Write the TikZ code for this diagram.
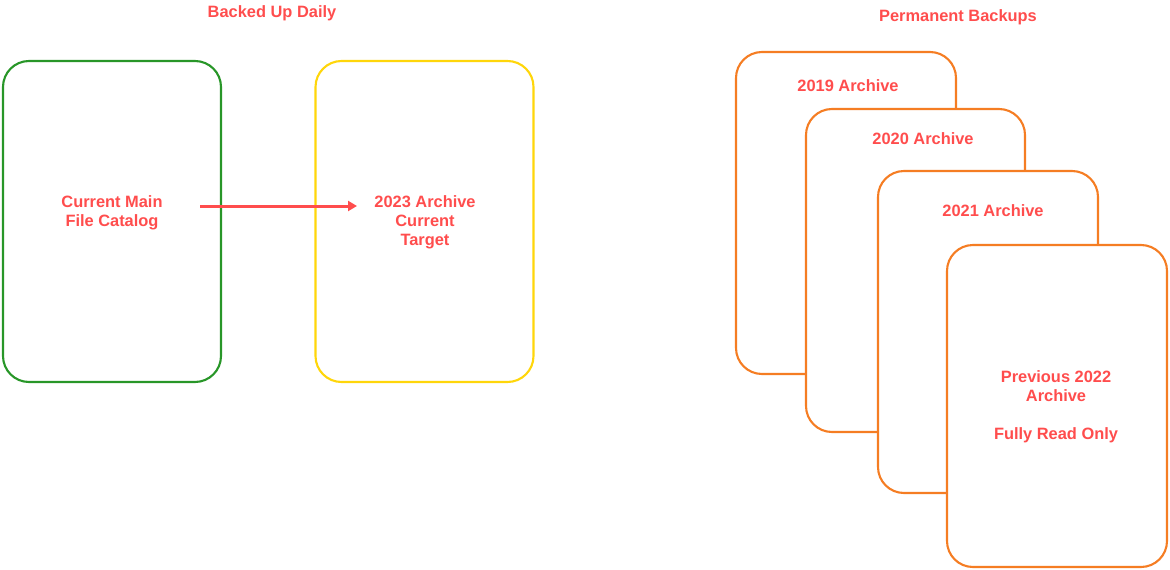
\documentclass[tikz,border=0pt]{standalone}
\usepackage{fontspec}
\setmainfont{Liberation Sans}
\usetikzlibrary{arrows.meta}
\definecolor{txtred}{RGB}{255,77,77}
\definecolor{boxgreen}{RGB}{40,150,40}
\definecolor{boxyellow}{RGB}{255,214,10}
\definecolor{boxorange}{RGB}{245,125,35}
\begin{document}
\begin{tikzpicture}[x=1pt,y=-1pt,
  box/.style={draw, line width=2.1pt, rounded corners=26pt, minimum width=218pt, minimum height=321pt, inner sep=0pt, fill=white},
  lbl/.style={text=txtred, font=\fontsize{16.4}{19}\selectfont\bfseries, align=center, inner sep=0pt},
  arr/.style={draw=txtred, line width=3pt, -{Triangle[length=9pt,width=10pt]}}]
\useasboundingbox (0,0) rectangle (1170,570);
% left group
\node[box, draw=boxgreen] (main) at (112,221.5) {};
\node[box, draw=boxyellow] (cur) at (424.5,221.5) {};
\node[lbl] (tDaily) at (272,13) {Backed Up Daily};
\node[lbl] (lMain) at (112,213) {Current Main\\File Catalog};
\node[lbl] (lCur) at (425,222.5) {2023 Archive\\Current\\Target};
\coordinate (a1) at (200,206);
\coordinate (a2) at (357,206);
\draw[arr] (a1) -- (a2);
% right group
\node[lbl] (tPerm) at (958,17) {Permanent Backups};
\node[box, draw=boxorange, minimum width=220pt, minimum height=322pt] (b19) at (846,213) {};
\node[lbl] (l19) at (848,86) {2019 Archive};
\node[box, draw=boxorange, minimum width=219pt, minimum height=323pt] (b20) at (915.5,270.5) {};
\node[lbl] (l20) at (923,139) {2020 Archive};
\node[box, draw=boxorange, minimum width=220pt, minimum height=322pt] (b21) at (988,332) {};
\node[lbl] (l21) at (993,211) {2021 Archive};
\node[box, draw=boxorange, minimum width=220pt, minimum height=322pt] (b22) at (1057,406) {};
\node[lbl] (l22) at (1056,406.5) {Previous 2022\\Archive\\[19pt]Fully Read Only};
\end{tikzpicture}
\end{document}
